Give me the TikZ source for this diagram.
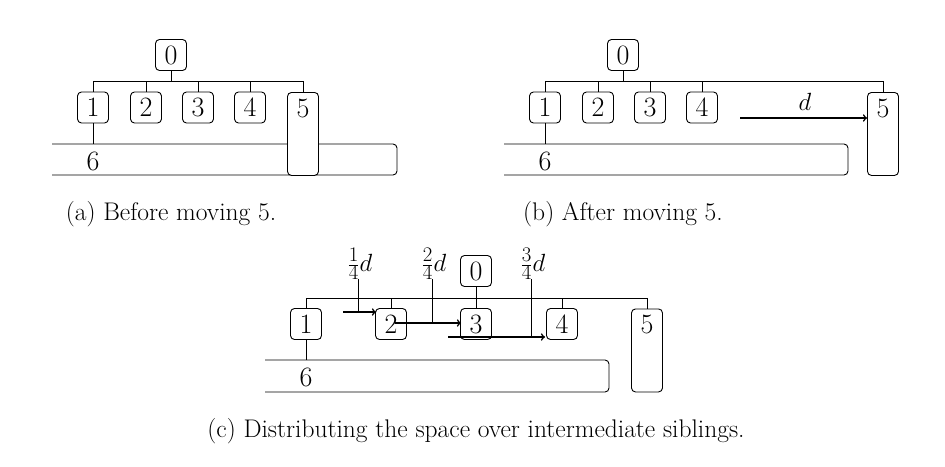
\documentclass[tikz,border=0pt]{standalone}
\begin{document}
\begin{tikzpicture}[x=1pt,y=-1pt,line width=0.9pt,
  every node/.style={font=\fontsize{28}{32}\selectfont},
  nd/.style={draw,rounded corners=4pt,minimum width=31pt,minimum height=31pt,inner sep=0pt},
  tall/.style={draw,rounded corners=4pt,minimum width=31pt,minimum height=83pt,inner sep=0pt,anchor=north,text depth=52pt},
  arr/.style={->,line width=1.6pt},
  captxt/.style={font=\fontsize{25.5}{30}\selectfont},
  frac/.style={font=\fontsize{31}{34}\selectfont}]
\useasboundingbox (0,0) rectangle (945,466);
% ---------- (a)
\begin{scope}
\node[nd] (a0) at (171,55) {0};
\foreach \i/\x in {1/93,2/146,3/198,4/250} \node[nd] (a\i) at (\x,107.5) {\i};
\draw (52,144) -- (392,144) [rounded corners=4pt] -- (397,144) -- (397,175) -- (52,175);
\node (a6) at (93,161) {6};
\node[tall,fill=white] (a5) at (303,92) {5};
\coordinate (ab) at (171,81);
\draw (a0.south) -- (ab);
\draw (a1.north) |- (303,81) -- (a5.north);
\foreach \i in {2,3,4} \draw (a\i.north) -- (a\i.north |- ab);
\draw (a1.south) -- (93,144);
\node[captxt] at (171,214) {(a) Before moving 5.};
\end{scope}
% ---------- (b)
\begin{scope}
\node[nd] (b0) at (623,55) {0};
\foreach \i/\x in {1/545,2/598,3/650,4/702} \node[nd] (b\i) at (\x,107.5) {\i};
\draw (504,144) -- (843,144) [rounded corners=4pt] -- (848,144) -- (848,175) -- (504,175);
\node (b6) at (545,161) {6};
\node[tall] (b5) at (883,92) {5};
\coordinate (bb) at (623,81);
\draw (b0.south) -- (bb);
\draw (b1.north) |- (883,81) -- (b5.north);
\foreach \i in {2,3,4} \draw (b\i.north) -- (b\i.north |- bb);
\draw (b1.south) -- (545,144);
\coordinate (ds) at (740,118);
\draw[arr] (ds) -- (b5.west |- ds);
\node at (805,102) {$d$};
\node[captxt] at (623,214) {(b) After moving 5.};
\end{scope}
% ---------- (c)
\begin{scope}
\node[nd] (c0) at (476,271) {0};
\foreach \i/\x in {1/306,2/391,3/476,4/562} \node[nd] (c\i) at (\x,324) {\i};
\draw (265,360) -- (604,360) [rounded corners=4pt] -- (609,360) -- (609,392) -- (265,392);
\node (c6) at (306,377) {6};
\node[tall] (c5) at (647,308.5) {5};
\coordinate (cb) at (476,298);
\draw (c0.south) -- (c3.north);
\draw (c1.north) |- (647,298) -- (c5.north);
\foreach \i in {2,4} \draw (c\i.north) -- (c\i.north |- cb);
\draw (c1.south) -- (306,360);
% arrows
\node[frac] (f1) at (360,264) {$\frac{1}{4}d$};
\node[frac] (f2) at (434,264) {$\frac{2}{4}d$};
\node[frac] (f3) at (533,264) {$\frac{3}{4}d$};
\coordinate (s1) at (343,312); \coordinate (s2) at (395,323); \coordinate (s3) at (448,337);
\draw[arr] (s1) -- (376,312);
\draw[arr] (s2) -- (461,323);
\draw[arr] (s3) -- (545,337);
\draw (358,279) -- (358,312);
\draw (432,279) -- (432,323);
\draw (531,279) -- (531,337);
\node[captxt] at (476,431) {(c) Distributing the space over intermediate siblings.};
\end{scope}
\end{tikzpicture}
\end{document}
